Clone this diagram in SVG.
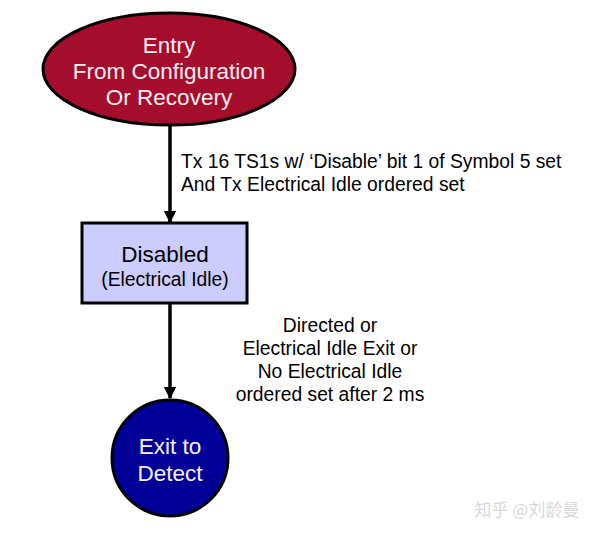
<svg xmlns="http://www.w3.org/2000/svg" width="599" height="534" viewBox="0 0 599 534">
<style>
.t{font-family:"Liberation Sans",Arial,sans-serif;text-anchor:middle}
.w{fill:#fdeef2;font-size:22.5px}
.k{fill:#000000}
.lbl{font-family:"Liberation Sans",Arial,sans-serif;font-size:19.3px;fill:#000}
.edge{stroke:#000;stroke-width:3.5;fill:none;marker-end:url(#ah)}
</style>
<defs>
<marker id="ah" viewBox="0 0 10 10" refX="9" refY="5" markerWidth="3.6" markerHeight="3.6" orient="auto" markerUnits="strokeWidth">
<path d="M0,0 L10,5 L0,10 z" fill="#000"/>
</marker>
</defs>
<rect width="599" height="534" fill="#ffffff"/>
<g id="connectors">
<line class="edge" x1="170" y1="126" x2="170" y2="222"/>
<line class="edge" x1="170" y1="304" x2="170" y2="398"/>
<text class="lbl" x="181" y="168">Tx 16 TS1s w/ ‘Disable’ bit 1 of Symbol 5 set</text>
<text class="lbl" x="181" y="191">And Tx Electrical Idle ordered set</text>
<text class="lbl" text-anchor="middle" x="330" y="332">Directed or</text>
<text class="lbl" text-anchor="middle" x="330" y="355">Electrical Idle Exit or</text>
<text class="lbl" text-anchor="middle" x="330" y="378">No Electrical Idle</text>
<text class="lbl" text-anchor="middle" x="330" y="401">ordered set after 2 ms</text>
</g>
<g id="entry">
<ellipse cx="169" cy="69" rx="126" ry="56" fill="#a50d2c" stroke="#000" stroke-width="3"/>
<text class="t w" x="169" y="53">Entry</text>
<text class="t w" x="169" y="79">From Configuration</text>
<text class="t w" x="169" y="105">Or Recovery</text>
</g>
<g id="disabled">
<rect x="82" y="223" width="165" height="80" fill="#ccccff" stroke="#000" stroke-width="3"/>
<text class="t k" x="165" y="262" font-size="22.5">Disabled</text>
<text class="t k" x="165" y="286" font-size="19.3">(Electrical Idle)</text>
</g>
<g id="detect">
<circle cx="170" cy="458" r="58" fill="#000099" stroke="#000" stroke-width="3"/>
<text class="t w" x="170" y="454">Exit to</text>
<text class="t w" x="170" y="481">Detect</text>
</g>
<text x="527" y="516" text-anchor="middle" font-family="'Noto Sans CJK SC',sans-serif" font-size="17" fill="#d8d8d8">知乎 @刘龄曼</text>
</svg>
